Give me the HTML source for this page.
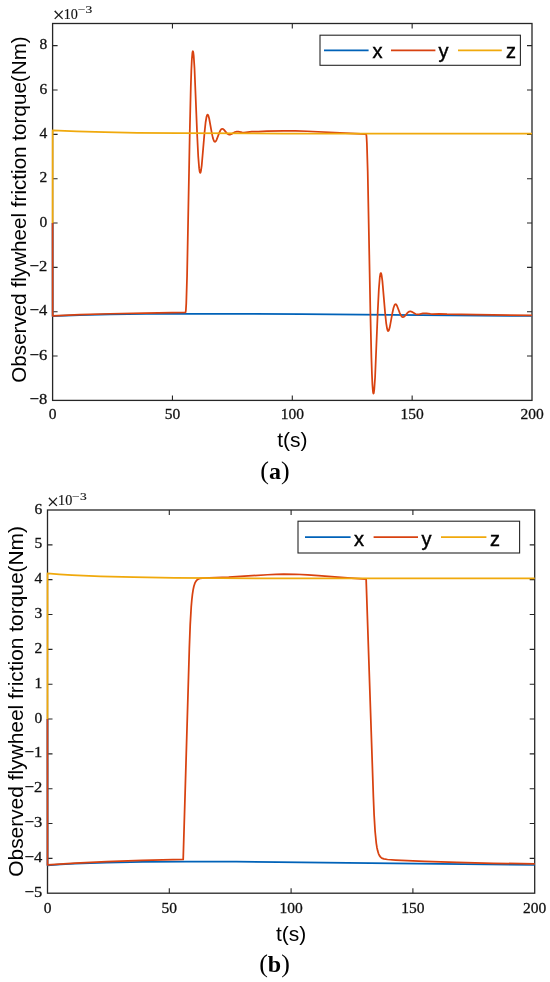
<!DOCTYPE html>
<html><head><meta charset="utf-8"><title>Observed flywheel friction torque</title>
<style>
html,body{margin:0;padding:0;background:#fff;}
body{width:550px;height:982px;overflow:hidden;}
svg{display:block;}
.cm{font-family:"Liberation Serif",serif;font-size:15.5px;fill:#111;stroke:#111;stroke-width:0.3px;}
.ex{font-size:15.5px;}
.cm.sup{font-size:10.5px;}
.cm.ns{stroke-width:0.15px;}
.hv{font-family:"Liberation Sans",Arial,sans-serif;fill:#000;}
.leg{font-size:20px;stroke:#000;stroke-width:0.45px;}
.xl{font-size:21px;}
.cap{font-family:"Liberation Serif",serif;font-size:24px;fill:#000;}
</style></head>
<body>
<svg width="550" height="982" viewBox="0 0 550 982">
<rect width="550" height="982" fill="#fff"/>
<path d="M52.60 356.06h5.0M532.00 356.06h-5.0M52.60 311.72h5.0M532.00 311.72h-5.0M52.60 267.38h5.0M532.00 267.38h-5.0M52.60 223.04h5.0M532.00 223.04h-5.0M52.60 178.69h5.0M532.00 178.69h-5.0M52.60 134.35h5.0M532.00 134.35h-5.0M52.60 90.01h5.0M532.00 90.01h-5.0M52.60 45.67h5.0M532.00 45.67h-5.0M172.45 400.40v-5.0M172.45 23.50v5.0M292.30 400.40v-5.0M292.30 23.50v5.0M412.15 400.40v-5.0M412.15 23.50v5.0" stroke="#262626" stroke-width="1.1" fill="none"/>
<rect x="52.60" y="23.50" width="479.40" height="376.90" fill="none" stroke="#262626" stroke-width="1.3"/>
<g fill="none" stroke-width="1.75" stroke-linejoin="round" stroke-linecap="butt">
<polyline stroke="#0062B8" points="52.60,223.04 52.65,316.15 79.59,315.09 110.42,314.35 146.23,313.92 189.13,313.77 238.37,313.87 302.08,314.20 532.00,315.94"/>
<polyline stroke="#D84210" points="52.60,223.04 52.65,315.93 79.83,314.71 110.27,313.75 144.50,313.01 185.54,312.43 185.87,310.27 186.26,303.45 187.07,276.09 189.76,132.85 190.81,86.58 191.34,70.20 191.82,59.81 192.35,53.24 192.58,51.79 192.87,51.20 193.06,51.45 193.26,52.19 193.69,55.61 194.50,68.18 197.14,134.17 198.19,155.81 199.15,168.17 199.63,171.44 199.87,172.35 200.16,172.84 200.35,172.80 200.54,172.49 200.93,171.10 201.74,165.26 204.52,132.60 205.58,122.49 206.54,116.75 207.01,115.25 207.25,114.84 207.54,114.63 207.93,114.82 208.31,115.49 209.12,118.27 211.86,133.33 212.91,138.10 213.87,140.81 214.35,141.53 214.88,141.82 215.26,141.74 215.64,141.43 216.46,140.12 219.24,132.85 220.29,130.60 221.25,129.31 221.73,128.97 222.26,128.82 223.03,128.99 223.84,129.59 226.57,132.85 227.58,133.83 228.54,134.43 229.50,134.64 230.31,134.55 231.18,134.22 235.01,132.00 236.83,131.56 238.27,131.62 242.01,132.44 244.07,132.60 251.74,131.64 258.21,131.65 266.89,131.18 283.67,130.85 295.37,130.91 307.16,131.25 345.47,133.21 366.18,134.06 366.51,136.48 366.89,143.53 367.71,171.18 370.35,311.23 371.40,357.55 371.93,374.06 372.41,384.60 372.89,390.95 373.13,392.66 373.41,393.56 373.61,393.51 373.80,392.96 374.23,389.97 375.09,377.26 377.78,310.82 378.83,289.54 379.79,277.48 380.27,274.35 380.51,273.50 380.80,273.08 380.99,273.16 381.18,273.50 381.56,274.95 382.38,280.88 385.11,312.88 386.17,323.02 387.13,328.83 387.60,330.37 387.84,330.81 388.13,331.04 388.52,330.90 388.90,330.27 389.76,327.36 392.45,312.70 393.50,307.95 394.46,305.22 394.94,304.50 395.47,304.19 395.85,304.26 396.23,304.56 397.10,305.95 399.83,313.08 400.88,315.35 401.84,316.65 402.32,317.00 402.85,317.16 403.62,317.01 404.48,316.39 407.16,313.21 408.22,312.18 409.18,311.60 410.18,311.39 410.95,311.49 411.81,311.81 415.60,313.97 416.61,314.29 417.62,314.41 419.20,314.27 422.94,313.41 424.81,313.27 426.48,313.39 430.42,313.95 432.48,314.07 439.24,313.93 447.00,314.22 476.15,314.66 532.00,315.26"/>
<polyline stroke="#F0A90C" points="52.60,223.04 52.65,130.36 76.71,131.43 104.52,132.23 137.26,132.79 177.29,133.18 284.01,133.51 532.00,133.58"/>
</g>
<g class="cm" text-anchor="end">
<text x="47.3" y="403.9" textLength="17.6" lengthAdjust="spacingAndGlyphs">−8</text>
<text x="47.3" y="359.6" textLength="17.6" lengthAdjust="spacingAndGlyphs">−6</text>
<text x="47.3" y="315.2" textLength="17.6" lengthAdjust="spacingAndGlyphs">−4</text>
<text x="47.3" y="270.9" textLength="17.6" lengthAdjust="spacingAndGlyphs">−2</text>
<text x="47.3" y="226.5">0</text>
<text x="47.3" y="182.2">2</text>
<text x="47.3" y="137.9">4</text>
<text x="47.3" y="93.5">6</text>
<text x="47.3" y="49.2">8</text>
</g>
<g class="cm" text-anchor="middle">
<text x="52.6" y="419.2">0</text>
<text x="172.4" y="419.2">50</text>
<text x="292.3" y="419.2">100</text>
<text x="412.2" y="419.2">150</text>
<text x="532.0" y="419.2">200</text>
</g>
<text class="cm ns" style="font-size:21px" x="52.7" y="22.2">×</text>
<text class="cm ns" x="63.7" y="18.6" textLength="14.2" lengthAdjust="spacingAndGlyphs">10</text>
<text class="cm sup ns" x="77.9" y="13.2" textLength="14.3" lengthAdjust="spacingAndGlyphs">−3</text>
<text class="hv" font-size="20.65" text-anchor="middle" transform="translate(25.8,209.5) rotate(-90)">Observed flywheel friction torque(Nm)</text>
<rect x="320.0" y="35.2" width="200.39999999999998" height="30.099999999999994" fill="#fff" stroke="#262626" stroke-width="1.1"/>
<line x1="324" y1="50.25" x2="368.6" y2="50.25" stroke="#0062B8" stroke-width="1.75"/>
<text class="hv leg" x="372.6" y="57.9">x</text>
<line x1="391" y1="50.25" x2="435.4" y2="50.25" stroke="#D84210" stroke-width="1.75"/>
<text class="hv leg" x="438.6" y="57.9">y</text>
<line x1="458" y1="50.25" x2="501.8" y2="50.25" stroke="#F0A90C" stroke-width="1.75"/>
<text class="hv leg" x="506" y="57.9">z</text>
<text class="hv xl" x="292.3" y="447.4" text-anchor="middle">t(s)</text>
<text class="cap" x="275.0" y="478.7" text-anchor="middle"><tspan style="font-size:26px">(</tspan><tspan font-weight="bold">a</tspan><tspan style="font-size:26px">)</tspan></text>
<path d="M47.50 858.36h5.0M534.70 858.36h-5.0M47.50 823.53h5.0M534.70 823.53h-5.0M47.50 788.69h5.0M534.70 788.69h-5.0M47.50 753.85h5.0M534.70 753.85h-5.0M47.50 719.02h5.0M534.70 719.02h-5.0M47.50 684.18h5.0M534.70 684.18h-5.0M47.50 649.35h5.0M534.70 649.35h-5.0M47.50 614.51h5.0M534.70 614.51h-5.0M47.50 579.67h5.0M534.70 579.67h-5.0M47.50 544.84h5.0M534.70 544.84h-5.0M169.30 893.20v-5.0M169.30 510.00v5.0M291.10 893.20v-5.0M291.10 510.00v5.0M412.90 893.20v-5.0M412.90 510.00v5.0" stroke="#262626" stroke-width="1.1" fill="none"/>
<rect x="47.50" y="510.00" width="487.20" height="383.20" fill="none" stroke="#262626" stroke-width="1.3"/>
<g fill="none" stroke-width="1.75" stroke-linejoin="round" stroke-linecap="butt">
<polyline stroke="#0062B8" points="47.50,719.02 47.55,865.33 60.80,864.43 74.93,863.66 90.03,863.02 106.26,862.51 142.65,861.83 186.25,861.59 236.29,861.74 301.04,862.26 534.70,865.00"/>
<polyline stroke="#D84210" points="47.50,719.02 47.55,864.98 75.37,863.06 106.55,861.54 142.02,860.36 183.19,859.49 189.32,648.83 190.20,624.85 191.22,606.94 191.81,599.98 192.44,594.33 193.12,589.86 193.90,586.23 194.78,583.46 195.85,581.32 196.97,579.97 198.39,579.02 200.14,578.45 202.62,578.11 228.74,577.13 267.62,574.75 276.00,574.38 283.69,574.19 295.44,574.25 307.66,574.77 318.43,575.52 347.57,577.90 366.13,579.04 373.39,797.02 374.12,815.08 375.09,831.26 376.26,843.03 376.94,847.44 377.68,850.85 378.50,853.53 379.48,855.63 380.31,856.80 381.28,857.73 382.40,858.41 383.81,858.91 387.52,859.50 395.56,860.02 424.59,861.34 456.94,862.41 493.24,863.26 534.70,863.91"/>
<polyline stroke="#F0A90C" points="47.50,719.02 47.55,573.41 59.39,574.30 72.01,575.08 100.26,576.33 133.54,577.22 174.22,577.82 220.60,578.16 282.67,578.35 534.70,578.45"/>
</g>
<g class="cm" text-anchor="end">
<text x="42.3" y="896.7" textLength="17.6" lengthAdjust="spacingAndGlyphs">−5</text>
<text x="42.3" y="861.9" textLength="17.6" lengthAdjust="spacingAndGlyphs">−4</text>
<text x="42.3" y="827.0" textLength="17.6" lengthAdjust="spacingAndGlyphs">−3</text>
<text x="42.3" y="792.2" textLength="17.6" lengthAdjust="spacingAndGlyphs">−2</text>
<text x="42.3" y="757.4" textLength="17.6" lengthAdjust="spacingAndGlyphs">−1</text>
<text x="42.3" y="722.5">0</text>
<text x="42.3" y="687.7">1</text>
<text x="42.3" y="652.8">2</text>
<text x="42.3" y="618.0">3</text>
<text x="42.3" y="583.2">4</text>
<text x="42.3" y="548.3">5</text>
<text x="42.3" y="513.5">6</text>
</g>
<g class="cm" text-anchor="middle">
<text x="47.5" y="912.7">0</text>
<text x="169.3" y="912.7">50</text>
<text x="291.1" y="912.7">100</text>
<text x="412.9" y="912.7">150</text>
<text x="534.7" y="912.7">200</text>
</g>
<text class="cm ns" style="font-size:21px" x="47.1" y="508.8">×</text>
<text class="cm ns" x="58.1" y="505.2" textLength="14.2" lengthAdjust="spacingAndGlyphs">10</text>
<text class="cm sup ns" x="72.3" y="499.8" textLength="14.3" lengthAdjust="spacingAndGlyphs">−3</text>
<text class="hv" font-size="20.9" text-anchor="middle" transform="translate(22.8,701.4) rotate(-90)">Observed flywheel friction torque(Nm)</text>
<rect x="298.0" y="521.2" width="221.60000000000002" height="31.799999999999955" fill="#fff" stroke="#262626" stroke-width="1.1"/>
<line x1="305" y1="537.10" x2="350.6" y2="537.10" stroke="#0062B8" stroke-width="1.75"/>
<text class="hv leg" x="354" y="545.6">x</text>
<line x1="373.6" y1="537.10" x2="418" y2="537.10" stroke="#D84210" stroke-width="1.75"/>
<text class="hv leg" x="421.6" y="545.6">y</text>
<line x1="441" y1="537.10" x2="486.4" y2="537.10" stroke="#F0A90C" stroke-width="1.75"/>
<text class="hv leg" x="490" y="545.6">z</text>
<text class="hv xl" x="291.1" y="941.2" text-anchor="middle">t(s)</text>
<text class="cap" x="274.5" y="971.9" text-anchor="middle"><tspan style="font-size:26px">(</tspan><tspan font-weight="bold">b</tspan><tspan style="font-size:26px">)</tspan></text>
</svg>
</body></html>
